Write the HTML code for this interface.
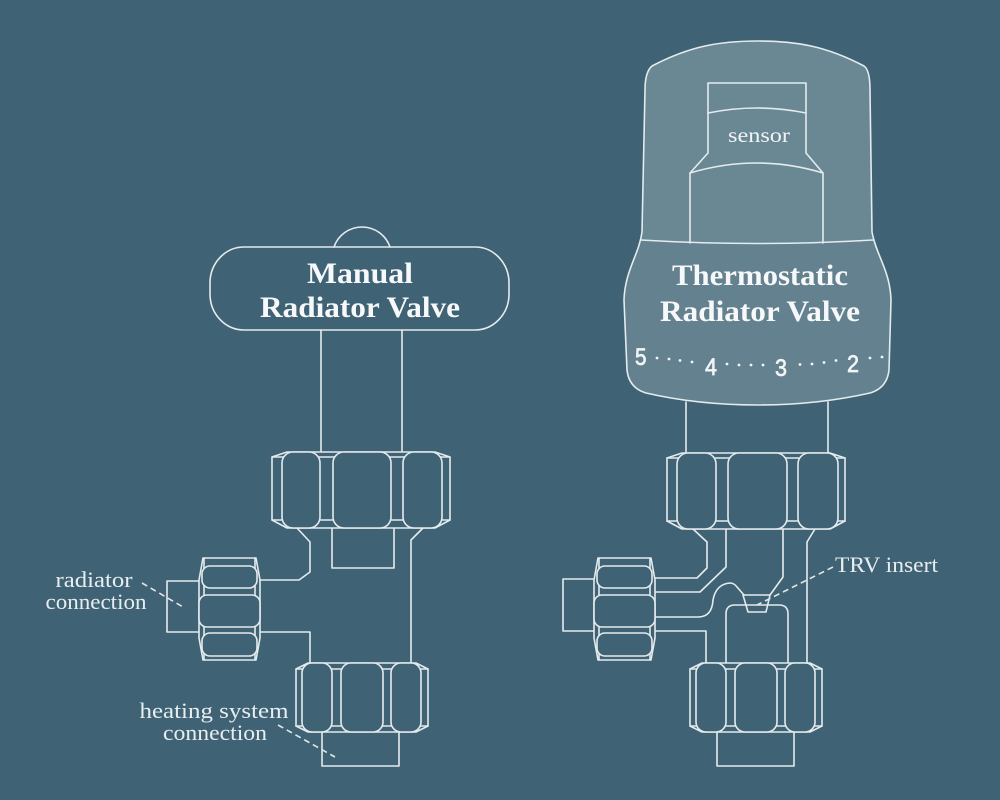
<!DOCTYPE html>
<html>
<head>
<meta charset="utf-8">
<style>
  html,body{margin:0;padding:0;background:#3f6374;}
  svg{display:block;}
  .ln{fill:none;stroke:#e4ebee;stroke-width:1.6;stroke-linejoin:round;stroke-linecap:round;}
  .nf{fill:#3f6374;stroke:#e4ebee;stroke-width:1.6;stroke-linejoin:round;}
  .ttl{font-family:"Liberation Serif",serif;font-weight:bold;fill:#f6f8f9;font-size:30px;}
  .lbl{font-family:"Liberation Serif",serif;fill:#e8eef0;font-size:22px;}
  .dig{font-family:"Liberation Sans",sans-serif;fill:#f2f5f6;font-size:24px;stroke:#f2f5f6;stroke-width:0.7;}
  .dash{fill:none;stroke:#dfe7ea;stroke-width:1.6;stroke-dasharray:6 4;}
</style>
</head>
<body>
<svg width="1000" height="800" viewBox="0 0 1000 800" xmlns="http://www.w3.org/2000/svg">
  <rect x="0" y="0" width="1000" height="800" fill="#3f6374"/>

  <!-- ================= MANUAL VALVE ================= -->
  <path class="ln" d="M334,247 A29.6,29.6 0 0 1 390,247"/>
  <rect class="ln" x="210" y="247" width="299" height="83" rx="34" ry="36"/>
  <text class="ttl" x="360" y="283" text-anchor="middle" textLength="106" lengthAdjust="spacingAndGlyphs">Manual</text>
  <text class="ttl" x="360" y="317" text-anchor="middle" textLength="200" lengthAdjust="spacingAndGlyphs">Radiator Valve</text>
  <line class="ln" x1="321" y1="330" x2="321" y2="452"/>
  <line class="ln" x1="402" y1="330" x2="402" y2="452"/>

  <polyline class="ln" points="297,528 310,542 310,572 299,580 260,580"/>
  <polyline class="ln" points="332,528 332,568 394,568 394,528"/>
  <polyline class="ln" points="423,528 411,540 411,663"/>
  <polyline class="ln" points="260,632 310,632 310,663"/>
  <polyline class="ln" points="199,581 167,581 167,632 199,632"/>
  <polyline class="ln" points="322,732 322,766 399,766 399,732"/>

  <g transform="translate(272,452)">
    <polygon class="nf" points="0,5 15,0 163,0 178,5 178,68 163,76 15,76 0,68"/>
    <line class="ln" x1="0" y1="5" x2="178" y2="5"/>
    <line class="ln" x1="0" y1="68" x2="178" y2="68"/>
    <rect class="nf" x="10" y="0" width="38" height="76" rx="11"/>
    <rect class="nf" x="61" y="0" width="58" height="76" rx="11"/>
    <rect class="nf" x="131" y="0" width="39" height="76" rx="11"/>
  </g>
  <g transform="translate(199,558)">
    <polygon class="nf" points="4,0 57,0 61,22 61,80 57,102 4,102 0,80 0,22"/>
    <line class="ln" x1="5" y1="0" x2="5" y2="102"/>
    <line class="ln" x1="56" y1="0" x2="56" y2="102"/>
    <rect class="nf" x="3" y="8" width="55" height="22" rx="8"/>
    <rect class="nf" x="0" y="37" width="61" height="32" rx="8"/>
    <rect class="nf" x="3" y="75" width="55" height="23" rx="8"/>
  </g>
  <g transform="translate(296,663)">
    <polygon class="nf" points="0,6 12,0 120,0 132,6 132,63 120,69 12,69 0,63"/>
    <line class="ln" x1="0" y1="6" x2="132" y2="6"/>
    <line class="ln" x1="0" y1="63" x2="132" y2="63"/>
    <rect class="nf" x="6" y="0" width="30" height="69" rx="10"/>
    <rect class="nf" x="45" y="0" width="42" height="69" rx="10"/>
    <rect class="nf" x="95" y="0" width="30" height="69" rx="10"/>
  </g>

  <text class="lbl" x="94" y="587" text-anchor="middle" textLength="77" lengthAdjust="spacingAndGlyphs">radiator</text>
  <text class="lbl" x="96" y="609" text-anchor="middle" textLength="101" lengthAdjust="spacingAndGlyphs">connection</text>
  <line class="dash" x1="142" y1="583" x2="183" y2="607"/>
  <text class="lbl" x="214" y="718" text-anchor="middle" textLength="149" lengthAdjust="spacingAndGlyphs">heating system</text>
  <text class="lbl" x="215" y="740" text-anchor="middle" textLength="104" lengthAdjust="spacingAndGlyphs">connection</text>
  <line class="dash" x1="278" y1="725" x2="335" y2="757"/>

  <!-- ================= THERMOSTATIC VALVE ================= -->
  <path fill="#64818f" d="M652,66 C690,46 720,41 758,41 C796,41 826,46 864,66 Q870,70 870,90 L872,232 C876,255 890,270 891,300 L889,370 Q887,388 870,393 C830,402 790,405 758,405 C725,405 685,402 646,393 Q629,388 627,370 L624,300 C625,270 639,255 642,232 L645,90 Q645,72 652,66 Z"/>
  <path fill="#6a8794" d="M652,66 C690,46 720,41 758,41 C796,41 826,46 864,66 Q870,70 870,90 L872,240 Q758,247 641,240 L645,90 Q645,72 652,66 Z"/>
  <path class="ln" d="M652,66 C690,46 720,41 758,41 C796,41 826,46 864,66 Q870,70 870,90 L872,232 C876,255 890,270 891,300 L889,370 Q887,388 870,393 C830,402 790,405 758,405 C725,405 685,402 646,393 Q629,388 627,370 L624,300 C625,270 639,255 642,232 L645,90 Q645,72 652,66 Z"/>
  <path class="ln" d="M641,240 Q758,247 873,240"/>
  <polyline class="ln" points="690,243 690,173 708,153 708,83 806,83 806,153 823,173 823,243"/>
  <path class="ln" d="M708,113 Q757,103 806,113"/>
  <path class="ln" d="M690,173 Q757,153 823,173"/>
  <text class="lbl" x="759" y="142" text-anchor="middle" textLength="62" lengthAdjust="spacingAndGlyphs" style="font-size:21px;fill:#f0f4f5">sensor</text>

  <text class="ttl" x="760" y="285" text-anchor="middle" textLength="176" lengthAdjust="spacingAndGlyphs">Thermostatic</text>
  <text class="ttl" x="760" y="321" text-anchor="middle" textLength="200" lengthAdjust="spacingAndGlyphs">Radiator Valve</text>

  <text class="dig" x="635" y="365" textLength="11.5" lengthAdjust="spacingAndGlyphs">5</text>
  <text class="dig" x="705" y="375" textLength="12" lengthAdjust="spacingAndGlyphs">4</text>
  <text class="dig" x="775" y="376" textLength="12" lengthAdjust="spacingAndGlyphs">3</text>
  <text class="dig" x="847" y="372" textLength="12" lengthAdjust="spacingAndGlyphs">2</text>
  <g fill="#f2f5f6">
    <circle cx="657" cy="358" r="1.4"/>
    <circle cx="669" cy="359" r="1.4"/>
    <circle cx="680" cy="360.5" r="1.4"/>
    <circle cx="692" cy="362" r="1.4"/>
    <circle cx="727" cy="364" r="1.4"/>
    <circle cx="739" cy="365" r="1.4"/>
    <circle cx="751" cy="365" r="1.4"/>
    <circle cx="763" cy="365" r="1.4"/>
    <circle cx="800" cy="364.5" r="1.4"/>
    <circle cx="812" cy="364" r="1.4"/>
    <circle cx="824" cy="362.5" r="1.4"/>
    <circle cx="836" cy="360.5" r="1.4"/>
    <circle cx="870" cy="358" r="1.4"/>
    <circle cx="882" cy="357" r="1.4"/>
  </g>

  <line class="ln" x1="686" y1="402" x2="686" y2="453"/>
  <line class="ln" x1="828" y1="402" x2="828" y2="453"/>

  <polyline class="ln" points="693,529 707,542 707,568 697,578 655,578"/>
  <polyline class="ln" points="726,529 726,567 700,592 655,592"/>
  <path class="ln" d="M655,617 L698,617 Q712,617 713,600 Q716,584 730,583 Q734,583 737,587 L744,595"/>
  <polygon class="ln" points="743,595 770,595 766,612 748,612"/>
  <polyline class="ln" points="770,595 783,577 783,529"/>
  <polyline class="ln" points="815,529 807,542 807,663"/>
  <path class="ln" d="M726,663 L726,614 Q726,605 735,605 L779,605 Q788,605 788,614 L788,663"/>
  <polyline class="ln" points="655,631 706,631 706,663"/>
  <polyline class="ln" points="594,579 563,579 563,631 594,631"/>
  <polyline class="ln" points="717,732 717,766 794,766 794,732"/>

  <g transform="translate(667,453)">
    <polygon class="nf" points="0,5 15,0 163,0 178,5 178,68 163,76 15,76 0,68"/>
    <line class="ln" x1="0" y1="5" x2="178" y2="5"/>
    <line class="ln" x1="0" y1="68" x2="178" y2="68"/>
    <rect class="nf" x="10" y="0" width="39" height="76" rx="11"/>
    <rect class="nf" x="61" y="0" width="59" height="76" rx="11"/>
    <rect class="nf" x="131" y="0" width="40" height="76" rx="11"/>
  </g>
  <g transform="translate(594,558)">
    <polygon class="nf" points="4,0 57,0 61,22 61,80 57,102 4,102 0,80 0,22"/>
    <line class="ln" x1="5" y1="0" x2="5" y2="102"/>
    <line class="ln" x1="56" y1="0" x2="56" y2="102"/>
    <rect class="nf" x="3" y="8" width="55" height="22" rx="8"/>
    <rect class="nf" x="0" y="37" width="61" height="32" rx="8"/>
    <rect class="nf" x="3" y="75" width="55" height="23" rx="8"/>
  </g>
  <g transform="translate(690,663)">
    <polygon class="nf" points="0,6 12,0 120,0 132,6 132,63 120,69 12,69 0,63"/>
    <line class="ln" x1="0" y1="6" x2="132" y2="6"/>
    <line class="ln" x1="0" y1="63" x2="132" y2="63"/>
    <rect class="nf" x="6" y="0" width="30" height="69" rx="10"/>
    <rect class="nf" x="45" y="0" width="42" height="69" rx="10"/>
    <rect class="nf" x="95" y="0" width="30" height="69" rx="10"/>
  </g>

  <line class="dash" x1="833" y1="567" x2="757" y2="605"/>
  <text class="lbl" x="835" y="572" textLength="103" lengthAdjust="spacingAndGlyphs">TRV insert</text>
</svg>
</body>
</html>
